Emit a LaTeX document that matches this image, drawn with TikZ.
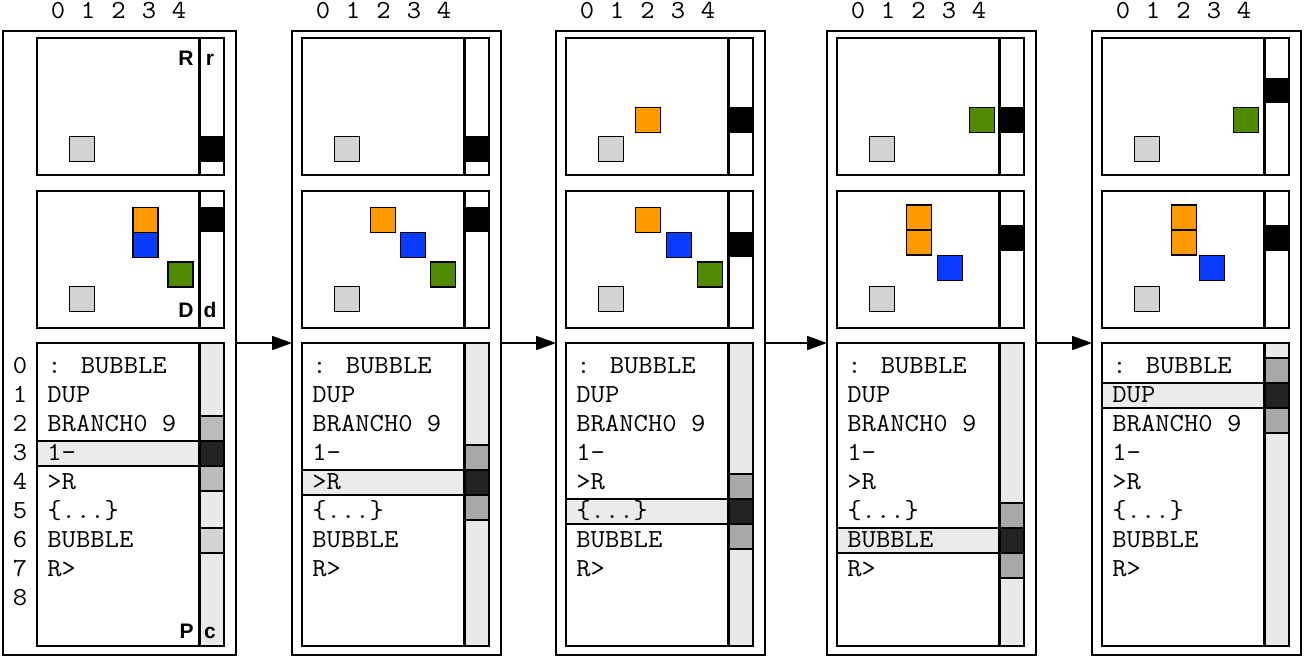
\documentclass[tikz,border=0pt]{standalone}
\usepackage{fontspec}
\setsansfont{Liberation Sans}
\newfontfamily\codefont{Latin Modern Mono}[FakeStretch=1.07]
\usepackage{xcolor}
\usetikzlibrary{arrows.meta}
\definecolor{sqorange}{HTML}{FF9900}
\definecolor{sqblue}{HTML}{0A3CFF}
\definecolor{sqgreen}{HTML}{4F8A00}
\definecolor{sqgrey}{HTML}{D3D3D3}
\definecolor{colgrey}{HTML}{E9E9E9}
\definecolor{hlgrey}{HTML}{EBEBEB}
\definecolor{mkgrey}{HTML}{A8A8A8}
\definecolor{mklight}{HTML}{BBBBBB}
\definecolor{mkdark}{HTML}{222222}
\tikzstyle{arrow} = [line width=0.9pt,-{Triangle[length=10pt,width=7pt]}]
\tikzstyle{box} = [draw=black,line width=1pt]
\tikzstyle{divline} = [line width=1.3pt]
\tikzstyle{sq} = [draw=black,line width=0.8pt]
\tikzstyle{code} = [font=\codefont\fontsize{13}{15}\selectfont,anchor=base west,inner sep=0pt]
\tikzstyle{num} = [font=\codefont\fontsize{13}{15}\selectfont,anchor=base,inner sep=0pt]
\tikzstyle{lbl} = [font=\sffamily\bfseries\fontsize{10.5}{12}\selectfont,inner sep=0pt]
% one step: name, left of frame, current line, marker colour
\newcommand{\drawstep}[4]{
  %frame
  \draw[box] (#2,30.5) rectangle (199,655);
  \coordinate (#1in) at (#2,343);
  \coordinate (#1out) at (199,343);
  %return stack and data stack
  \draw[box] (0,38) rectangle (187,175);
  \draw[divline] (162.5,38) -- (162.5,175);
  \draw[box] (0,191) rectangle (187,328);
  \draw[divline] (162.5,191) -- (162.5,328);
  %program
  \fill[colgrey] (162.5,343) rectangle (187,646);
  \draw[box,fill=hlgrey] (0,{353.5+29*#3}) rectangle (162.5,{378.5+29*#3});
  \draw[box,fill=#4] (162.5,{328.5+29*#3}) rectangle (187,{353.5+29*#3});
  \draw[box,fill=mkdark] (162.5,{353.5+29*#3}) rectangle (187,{378.5+29*#3});
  \draw[box,fill=#4] (162.5,{378.5+29*#3}) rectangle (187,{403.5+29*#3});
  \draw[box] (0,343) rectangle (187,646);
  \draw[divline] (162.5,343) -- (162.5,646);
  \node[code] (#1c0) at (10,373) {: BUBBLE};
  \node[code] (#1c1) at (10,402) {DUP};
  \node[code] (#1c2) at (10,431) {BRANCH0 9};
  \node[code] (#1c3) at (10,460) {1-};
  \node[code] (#1c4) at (10,489) {>R};
  \node[code] (#1c5) at (10,518) {\{...\}};
  \node[code] (#1c6) at (10,547) {BUBBLE};
  \node[code] (#1c7) at (10,576) {R>};
  %columns
  \node[num] (#1n0) at (21,18) {0};
  \node[num] (#1n1) at (51,18) {1};
  \node[num] (#1n2) at (81.5,18) {2};
  \node[num] (#1n3) at (112,18) {3};
  \node[num] (#1n4) at (142,18) {4};
}
\newcommand{\putsq}[3]{\draw[sq,fill=#1] ({#2-12.5},#3) rectangle ++(25,25);}
\newcommand{\putmark}[2]{\fill[black] (162.5,#1) rectangle (188,#2);}

\begin{document}
\begin{tikzpicture}[x=0.5pt,y=-0.5pt]
\useasboundingbox (0,0) rectangle (1304,659);

%step 1
\begin{scope}[shift={(37,0)}]
\drawstep{a}{-34}{3}{mklight}
\draw[box,fill=sqgrey] (162.5,528) rectangle (187,553);
\putmark{136}{162}
\putmark{207}{232}
\putsq{sqgrey}{45}{136.5}
\putsq{sqorange}{108.7}{207.3}
\putsq{sqblue}{108.7}{232.3}
\putsq{sqgreen}{143.7}{261.7}
\putsq{sqgrey}{45}{286.3}
\node[num] (r0) at (-17,373) {0};
\node[num] (r1) at (-17,402) {1};
\node[num] (r2) at (-17,431) {2};
\node[num] (r3) at (-17,460) {3};
\node[num] (r4) at (-17,489) {4};
\node[num] (r5) at (-17,518) {5};
\node[num] (r6) at (-17,547) {6};
\node[num] (r7) at (-17,576) {7};
\node[num] (r8) at (-17,605) {8};
\node[lbl,anchor=base east] (lR) at (157,65) {R};
\node[lbl,anchor=base] (lr) at (173,65) {r};
\node[lbl,anchor=base east] (lD) at (157,317) {D};
\node[lbl,anchor=base] (ld) at (173,317) {d};
\node[lbl,anchor=base east] (lP) at (157,638) {P};
\node[lbl,anchor=base] (lc) at (173,638) {c};
\end{scope}

%step 2
\begin{scope}[shift={(302,0)}]
\drawstep{b}{-10}{4}{mkgrey}
\putmark{136}{162}
\putmark{207}{232}
\putsq{sqgrey}{45}{136.5}
\putsq{sqorange}{80.8}{207.3}
\putsq{sqblue}{110.8}{232.3}
\putsq{sqgreen}{140.8}{261.7}
\putsq{sqgrey}{45}{286.3}
\end{scope}

%step 3
\begin{scope}[shift={(566,0)}]
\drawstep{c}{-10}{5}{mkgrey}
\putmark{107}{133}
\putmark{232}{257}
\putsq{sqorange}{82}{107.5}
\putsq{sqgrey}{45}{136.5}
\putsq{sqorange}{82}{207.3}
\putsq{sqblue}{113}{232.3}
\putsq{sqgreen}{144}{261.7}
\putsq{sqgrey}{45}{286.3}
\end{scope}

%step 4
\begin{scope}[shift={(837,0)}]
\drawstep{d}{-10}{6}{mkgrey}
\putmark{107}{133}
\putmark{225}{251}
\putsq{sqgreen}{145}{107.5}
\putsq{sqgrey}{45}{136.5}
\putsq{sqorange}{82}{205}
\putsq{sqorange}{82}{230}
\putsq{sqblue}{113}{255.5}
\putsq{sqgrey}{45}{286.3}
\end{scope}

%step 5
\begin{scope}[shift={(1102,0)}]
\drawstep{e}{-10}{1}{mkgrey}
\putmark{78}{103}
\putmark{225}{251}
\putsq{sqgreen}{144}{107.5}
\putsq{sqgrey}{45}{136.5}
\putsq{sqorange}{82}{205}
\putsq{sqorange}{82}{230}
\putsq{sqblue}{110}{255.5}
\putsq{sqgrey}{45}{286.3}
\end{scope}

%arrows
\draw[arrow] (aout) -- (bin);
\draw[arrow] (bout) -- (cin);
\draw[arrow] (cout) -- (din);
\draw[arrow] (dout) -- (ein);
\end{tikzpicture}
\end{document}
